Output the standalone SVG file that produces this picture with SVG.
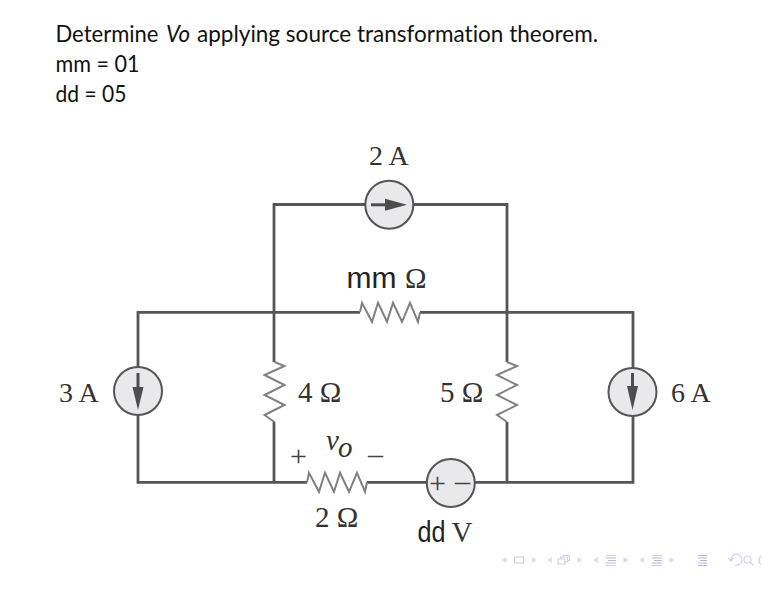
<svg xmlns="http://www.w3.org/2000/svg" width="780" height="604" viewBox="0 0 780 604">
<style>
.w{fill:none;stroke:#555;stroke-width:2.8}
.r{fill:none;stroke:#808080;stroke-width:2}
.s{fill:#e9e9eb;stroke:#555;stroke-width:2}
.a{fill:none;stroke:#4d4d4d;stroke-width:3}
.h{fill:#4d4d4d}
.t{font-family:"Lato","Open Sans",sans-serif;font-size:24px;fill:#111;font-variant-ligatures:none}
.m{font-family:"Liberation Serif",serif;font-size:29px;fill:#333}
.c{font-family:"Liberation Serif",serif;font-size:28px;fill:#333}
.h2{font-family:"Liberation Sans",sans-serif;font-size:30px;fill:#222}
.p{font-family:"Liberation Serif",serif;font-size:30px;fill:#444}
.nf{fill:#dcdcf2}
.nl{fill:none;stroke:#d0d0ee;stroke-width:1.2}
.nb{fill:none;stroke:#b4b4e2;stroke-width:1.2}
</style>
<defs>
<path id="rh" d="M0 0L2 -9.500L12 9.500L18 -9.500L27 9.500L33 -9.500L42 9.500L50 -9.500L58 9.500L60 0" class="r"/>
<path id="rv" d="M0 0L10 4L-10 13L10 23L-10 33L10 43L-10 53L0 60" class="r"/>
</defs>
<g id="heading">
<text class="t" x="55.500" y="42" textLength="103" lengthAdjust="spacingAndGlyphs">Determine</text>
<text class="t" x="166" y="42" font-style="italic" textLength="24" lengthAdjust="spacingAndGlyphs">Vo</text>
<text class="t" x="197" y="42" textLength="401" lengthAdjust="spacingAndGlyphs">applying source transformation theorem.</text>
<text class="t" x="55.500" y="72" textLength="84" lengthAdjust="spacingAndGlyphs">mm = 01</text>
<text class="t" x="55.500" y="102" textLength="71" lengthAdjust="spacingAndGlyphs">dd = 05</text>
</g>
<g id="connectors">
<path class="w" d="M365 204.500H274V362M414 204.500H507V362"/>
<path class="w" d="M360 312.300H138V367M420 312.300H633V368"/>
<path class="w" d="M138 415V482.300H307M367 482.300H427M475 482.300H633V416"/>
<path class="w" d="M274 422V482M507 422V482"/>
</g>
<g id="R-mm"><use href="#rh" x="360" y="312.300"/><text class="h2" x="346.500" y="288">mm</text><text class="m" x="405" y="288">Ω</text></g>
<g id="R-4"><use href="#rv" x="274.500" y="362"/><text class="m" x="298" y="402">4 Ω</text></g>
<g id="R-5"><use href="#rv" x="507" y="362"/><text class="m" x="440" y="402">5 Ω</text></g>
<g id="R-2"><use href="#rh" x="307" y="482.300"/><text class="m" x="315" y="527">2 Ω</text></g>
<g id="vo-label">
<text class="p" x="290" y="466">+</text>
<text class="m" x="326" y="450" font-style="italic">v</text>
<text class="m" x="338" y="457" font-style="italic" font-size="16">o</text>
<text class="p" x="368" y="463.500">–</text>
</g>
<g id="source-2A">
<circle class="s" cx="389.300" cy="204.800" r="24"/>
<path class="a" d="M371 204.800H392"/><path class="h" d="M385 198.800L407 204.800L385 210.800Z"/>
<text class="c" x="369" y="165">2 A</text>
</g>
<g id="source-3A">
<circle class="s" cx="138" cy="391" r="24"/>
<path class="a" d="M138 373V394"/><path class="h" d="M132.500 387L138 410L143.500 387Z"/>
<text class="c" x="59" y="402">3 A</text>
</g>
<g id="source-6A">
<circle class="s" cx="632.500" cy="392" r="24"/>
<path class="a" d="M632.500 373V394"/><path class="h" d="M627 386L632.500 410L638 386Z"/>
<text class="c" x="671" y="402">6 A</text>
</g>
<g id="source-dd">
<circle class="s" cx="450.800" cy="483" r="24"/>
<text class="p" x="429" y="493" fill="#666">+</text>
<text class="p" x="455" y="490.500" fill="#666">–</text>
<text class="h2" x="417.500" y="541.500" textLength="28" lengthAdjust="spacingAndGlyphs">dd</text><text class="m" x="451.500" y="541.500" font-size="31">V</text>
</g>
<g id="nav">
<path class="nf" d="M506.500 557v6l-5 -3zM532 557v6l5 -3zM552 557v6l-5 -3zM577.500 557v6l5 -3zM598 557v6l-5 -3zM623.500 557v6l5 -3zM644 557v6l-5 -3zM669.500 557v6l5 -3z"/>
<rect class="nl" x="514.500" y="557" width="9" height="6"/>
<path class="nl" d="M558 559h7v5h-7zM560.500 559v-2h7v5h-2.500M563.500 557v-1.500h6v5h-2"/>
<path class="nl" d="M606 555.500h10M606 565.500h10"/><path class="nb" d="M606 558h10M608 560.500h8M606 563h10"/>
<path class="nl" d="M652 555.500h10M652 565.500h10"/><path class="nb" d="M652 558h10M654 560.500h8M652 563h10"/>
<path class="nb" d="M698 555.500h9M698 558h9M700 560.500h7M698 563h9M698 565.500h9"/>
<path class="nl" d="M731 560a5.500 5.500 0 1 1 4 5M728 558l3 3l3 -3"/>
<circle class="nl" cx="747.500" cy="559.500" r="3.500"/><path class="nl" d="M750 562l3.500 3.500"/>
<path class="nl" d="M761 556a6 6 0 0 0 0 9"/>
</g>
</svg>
